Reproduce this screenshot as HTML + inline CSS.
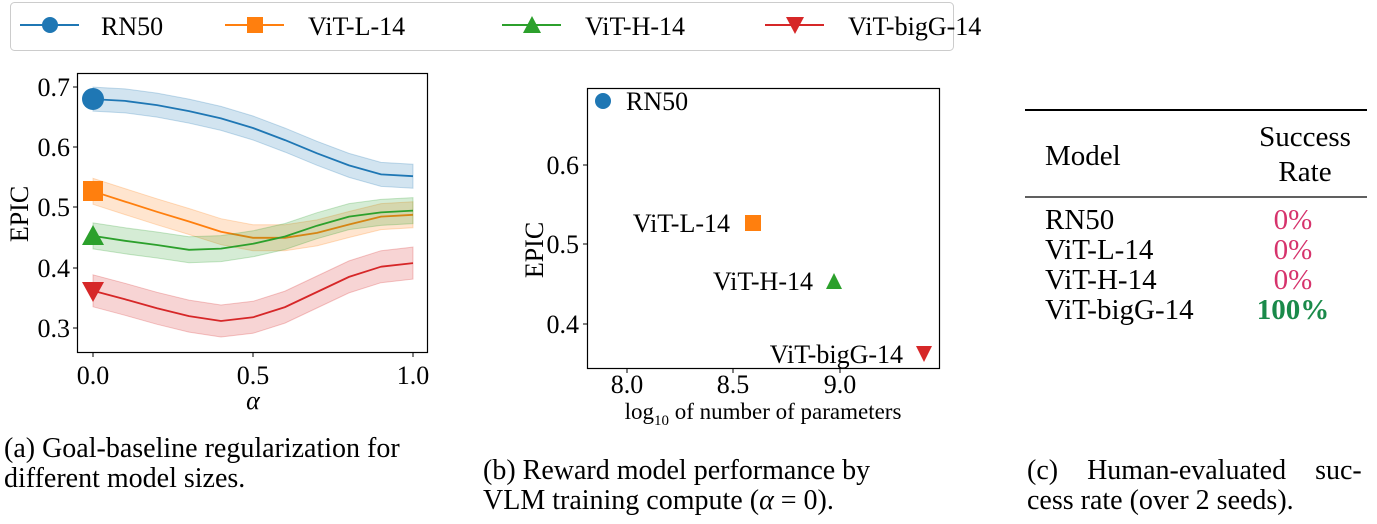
<!DOCTYPE html>
<html><head><meta charset="utf-8"><style>
body{margin:0;background:#fff;width:1377px;height:524px;overflow:hidden;font-family:"Liberation Serif","Times New Roman","DejaVu Serif",serif;}
svg{position:absolute;left:0;top:0}
svg text,svg tspan{font-family:"Liberation Serif","Times New Roman","DejaVu Serif",serif;fill:#000}
</style></head><body>
<svg id="s" width="1377" height="524" viewBox="0 0 1377 524" font-size="26" font-family="Liberation Serif, Times New Roman, serif">
<rect x="10.5" y="2.5" width="943" height="48" rx="4" fill="#fff" stroke="#ccc"/>
<line x1="20" y1="25" x2="79" y2="25" stroke="#1f77b4" stroke-width="2"/><circle cx="50" cy="25" r="8" fill="#1f77b4"/>
<text x="101" y="35" font-size="26">RN50</text>
<line x1="225" y1="25" x2="284" y2="25" stroke="#ff7f0e" stroke-width="2"/><rect x="247" y="17" width="16" height="16" fill="#ff7f0e"/>
<text x="308" y="35" font-size="26">ViT-L-14</text>
<line x1="502" y1="25" x2="561" y2="25" stroke="#2ca02c" stroke-width="2"/><polygon points="532,16 541,33 523,33" fill="#2ca02c"/>
<text x="585" y="35" font-size="26">ViT-H-14</text>
<line x1="765" y1="25" x2="824" y2="25" stroke="#d62728" stroke-width="2"/><polygon points="786,17 804,17 795,34" fill="#d62728"/>
<text x="848" y="35" font-size="26">ViT-bigG-14</text>

<g id="left"></g>
<rect x="77.5" y="73.5" width="350" height="279" fill="none" stroke="#000" stroke-width="1.2"/>
<g stroke="#000"><line x1="73" y1="87" x2="77" y2="87"/><line x1="73" y1="147" x2="77" y2="147"/><line x1="73" y1="207" x2="77" y2="207"/><line x1="73" y1="268" x2="77" y2="268"/><line x1="73" y1="328" x2="77" y2="328"/>
<line x1="93" y1="353" x2="93" y2="357"/><line x1="253" y1="353" x2="253" y2="357"/><line x1="413" y1="353" x2="413" y2="357"/></g>
<g text-anchor="end"><text x="70" y="96">0.7</text><text x="70" y="156">0.6</text><text x="70" y="216">0.5</text><text x="70" y="277">0.4</text><text x="70" y="337">0.3</text></g>
<g text-anchor="middle"><text x="93" y="384">0.0</text><text x="253" y="384">0.5</text><text x="413" y="384">1.0</text>
<text x="253" y="409" font-style="italic">α</text>
<text transform="translate(28,214) rotate(-90)">EPIC</text></g>
<circle cx="93" cy="99" r="11" fill="#1f77b4"/>
<rect x="83" y="181" width="20" height="20" fill="#ff7f0e"/>
<polygon points="93,225 104,245 82,245" fill="#2ca02c"/>
<polygon points="82,282 104,282 93,302" fill="#d62728"/>

<rect x="587.5" y="88.5" width="352" height="280" fill="none" stroke="#000" stroke-width="1.2"/>
<g stroke="#000"><line x1="583" y1="165" x2="587" y2="165"/><line x1="583" y1="244" x2="587" y2="244"/><line x1="583" y1="324" x2="587" y2="324"/>
<line x1="627" y1="369" x2="627" y2="373"/><line x1="733" y1="369" x2="733" y2="373"/><line x1="840" y1="369" x2="840" y2="373"/></g>
<g text-anchor="end"><text x="579" y="174">0.6</text><text x="579" y="253">0.5</text><text x="579" y="333">0.4</text>
<text x="730" y="232">ViT-L-14</text><text x="813" y="290">ViT-H-14</text><text x="903" y="363">ViT-bigG-14</text></g>
<text x="626" y="110">RN50</text>
<g text-anchor="middle"><text x="627" y="393">8.0</text><text x="733" y="393">8.5</text><text x="840" y="393">9.0</text>
<text transform="translate(543,250) rotate(-90)">EPIC</text></g>
<text x="763" y="419" text-anchor="middle" font-size="23">log<tspan font-size="15" dy="6">10</tspan><tspan dy="-6"> of number of parameters</tspan></text>
<circle cx="603" cy="101" r="8" fill="#1f77b4"/>
<rect x="745" y="215" width="16" height="16" fill="#ff7f0e"/>
<polygon points="834,273 842,289 826,289" fill="#2ca02c"/>
<polygon points="916,346 932,346 924,362" fill="#d62728"/>

<line x1="1025" y1="110" x2="1367" y2="110" stroke="#000" stroke-width="2"/>
<line x1="1025" y1="197" x2="1367" y2="197" stroke="#000" stroke-width="1.2"/>
<g font-size="29"><text x="1045" y="165">Model</text>
<text x="1305" y="146" text-anchor="middle">Success</text><text x="1305" y="181" text-anchor="middle">Rate</text>
<text x="1045" y="229">RN50</text><text x="1045" y="259">ViT-L-14</text><text x="1045" y="289">ViT-H-14</text><text x="1045" y="319">ViT-bigG-14</text>
<g text-anchor="middle"><text x="1293" y="229" style="fill:#d6336c">0%</text><text x="1293" y="259" style="fill:#d6336c">0%</text><text x="1293" y="289" style="fill:#d6336c">0%</text><text x="1293" y="319" font-weight="bold" style="fill:#1a8a4a">100%</text></g></g>

<g font-size="28"><text x="4" y="457">(a) Goal-baseline regularization for</text><text x="4" y="487">different model sizes.</text>
<text x="483" y="479">(b) Reward model performance by</text><text x="483" y="509">VLM training compute (<tspan font-style="italic">α</tspan> = 0).</text>
<text x="1027" y="479" word-spacing="22">(c) Human-evaluated suc-</text><text x="1027" y="509">cess rate (over 2 seeds).</text></g>
</svg>
<script>
var g=document.getElementById('left');
var X=[93,125,157,189,221,253,285,317,349,381,413];
var D=[["#1f77b4",12,[99.1,100.9,105.1,111.1,118.4,128,140.1,153.3,165.4,174.4,176.2]],
["#ff7f0e",13,[191.3,201.6,211.8,221.5,231.7,237.8,237.8,232.9,224.5,216.6,214.8]],
["#2ca02c",13,[235.9,240.8,245,249.8,248.6,243.8,236.5,225.7,216.6,212.4,210.6]],
["#d62728",16,[290.8,299.3,308.3,316.1,321,317.3,307.1,292,276.9,266.7,263.1]]];
var h="";
D.forEach(function(d){var up=[],lo=[],ln=[];for(var i=0;i<11;i++){up.push(X[i]+","+(d[2][i]-d[1]));lo.unshift(X[i]+","+(d[2][i]+d[1]));ln.push(X[i]+","+d[2][i]);}
h+='<polygon points="'+up.concat(lo).join(" ")+'" fill="'+d[0]+'" fill-opacity="0.2" stroke="'+d[0]+'" stroke-opacity="0.25"/>';
h+='<polyline points="'+ln.join(" ")+'" fill="none" stroke="'+d[0]+'" stroke-width="1.8"/>';});
g.innerHTML=h;
</script>
</body></html>
